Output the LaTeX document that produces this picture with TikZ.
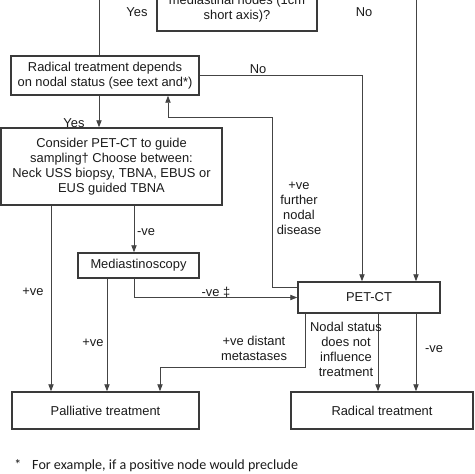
\documentclass[tikz,border=0pt]{standalone}
\usepackage{fontspec}
\setmainfont{Liberation Sans}
\newfontfamily\notefont{Carlito}
\usetikzlibrary{arrows.meta}
\newcommand{\flowfont}{\fontsize{11}{12.8}\selectfont}
\definecolor{boxgray}{HTML}{3A3A3A}
\definecolor{linegray}{HTML}{444444}
\definecolor{txtgray}{HTML}{1A1A1A}

\begin{document}
\begin{tikzpicture}[
      x=0.03cm, y=-0.03cm,
      box/.style={draw=boxgray,line width=1.2pt,align=center,inner sep=0pt,font=\flowfont,text=txtgray},
      link/.style={draw=linegray,line width=0.8pt},
      arr/.style={link,-{Triangle[length=6pt,width=4.5pt]}},
      lab/.style={align=center,inner sep=0pt,font=\flowfont,text=txtgray},
      note/.style={inner sep=0pt,font=\notefont\fontsize{12}{14}\selectfont,text=txtgray},
      ]
      \useasboundingbox (0,0) rectangle (474,474);

      % boxes
      \node[box,minimum width=4.8cm,minimum height=1.35cm] (ask) at (237,8.5) {mediastinal nodes (1cm\\short axis)?};
      \node[box,minimum width=5.64cm,minimum height=1.17cm] (dep) at (105,75.5) {Radical treatment depends\\on nodal status (see text and*)};
      \node[box,minimum width=6.63cm,minimum height=2.31cm] (sample) at (111.5,166.5) {Consider PET-CT to guide\\sampling\textdagger{} Choose between:\\Neck USS biopsy, TBNA, EBUS or\\EUS guided TBNA};
      \node[box,minimum width=3.63cm,minimum height=0.75cm] (med) at (138.5,265.5) {Mediastinoscopy};
      \node[box,minimum width=4.26cm,minimum height=0.93cm] (petct) at (369,297.5) {PET-CT};
      \node[box,minimum width=5.61cm,minimum height=1.11cm] (pal) at (105.5,410.5) {Palliative treatment};
      \node[box,minimum width=5.46cm,minimum height=1.11cm] (rad) at (382,410.5) {Radical treatment};

      % columns and rows
      \coordinate (yesin) at (99,-5);
      \coordinate (noin) at (416,-5);
      \coordinate (xno) at (362,0);
      \coordinate (xup) at (272,0);
      \coordinate (xback) at (168,0);
      \coordinate (xneg) at (134,0);
      \coordinate (xpa) at (51,0);
      \coordinate (xpb) at (107,0);
      \coordinate (xpc) at (160,0);
      \coordinate (xdist) at (305,0);
      \coordinate (xnodal) at (378,0);
      \coordinate (yloop) at (0,117);
      \coordinate (ydist) at (0,367);

      % connectors
      \draw[link] (yesin) -- (yesin |- dep.north);
      \draw[arr] (noin) -- (noin |- petct.north);
      \draw[arr] (dep.east) -| (xno |- petct.north);
      \draw[arr] (yesin |- dep.south) -- (yesin |- sample.north);
      \draw[arr] ([yshift=0.315cm]petct.west) -| (xup |- yloop) -| (xback |- dep.south);
      \draw[arr] (xpa |- sample.south) -- (xpa |- pal.north);
      \draw[arr] (xneg |- sample.south) -- (xneg |- med.north);
      \draw[arr] (xneg |- med.south) |- (petct.west);
      \draw[arr] (xpb |- med.south) -- (xpb |- pal.north);
      \draw[arr] (xdist |- petct.south) |- (xpc |- ydist) -- (xpc |- pal.north);
      \draw[arr] (xnodal |- petct.south) -- (xnodal |- rad.north);
      \draw[arr] (noin |- petct.south) -- (noin |- rad.north);

      % labels
      \node[lab] (yestop) at (137,12) {Yes};
      \node[lab] (notop) at (364,12) {No};
      \node[lab] (nodep) at (258,69) {No};
      \node[lab] (yesdep) at (74,123) {Yes};
      \node[lab] (further) at (299,208.5) {+ve\\further\\nodal\\disease};
      \node[lab] (negsample) at (146,232) {-ve};
      \node[lab] (possample) at (33,292) {+ve};
      \node[lab] (negmed) at (216,292) {-ve \textdaggerdbl};
      \node[lab] (posmed) at (93,343) {+ve};
      \node[lab] (distant) at (254,348) {+ve distant\\metastases};
      \node[lab] (nodal) at (346,349) {Nodal status\\does not\\influence\\treatment};
      \node[lab] (negpet) at (434,349) {-ve};

      % footnote
      \node[note,anchor=base] (star) at (18,469) {*};
      \node[note,anchor=base west] (fn) at (32,469) {For example, if a positive node would preclude};
    \end{tikzpicture}
\end{document}
